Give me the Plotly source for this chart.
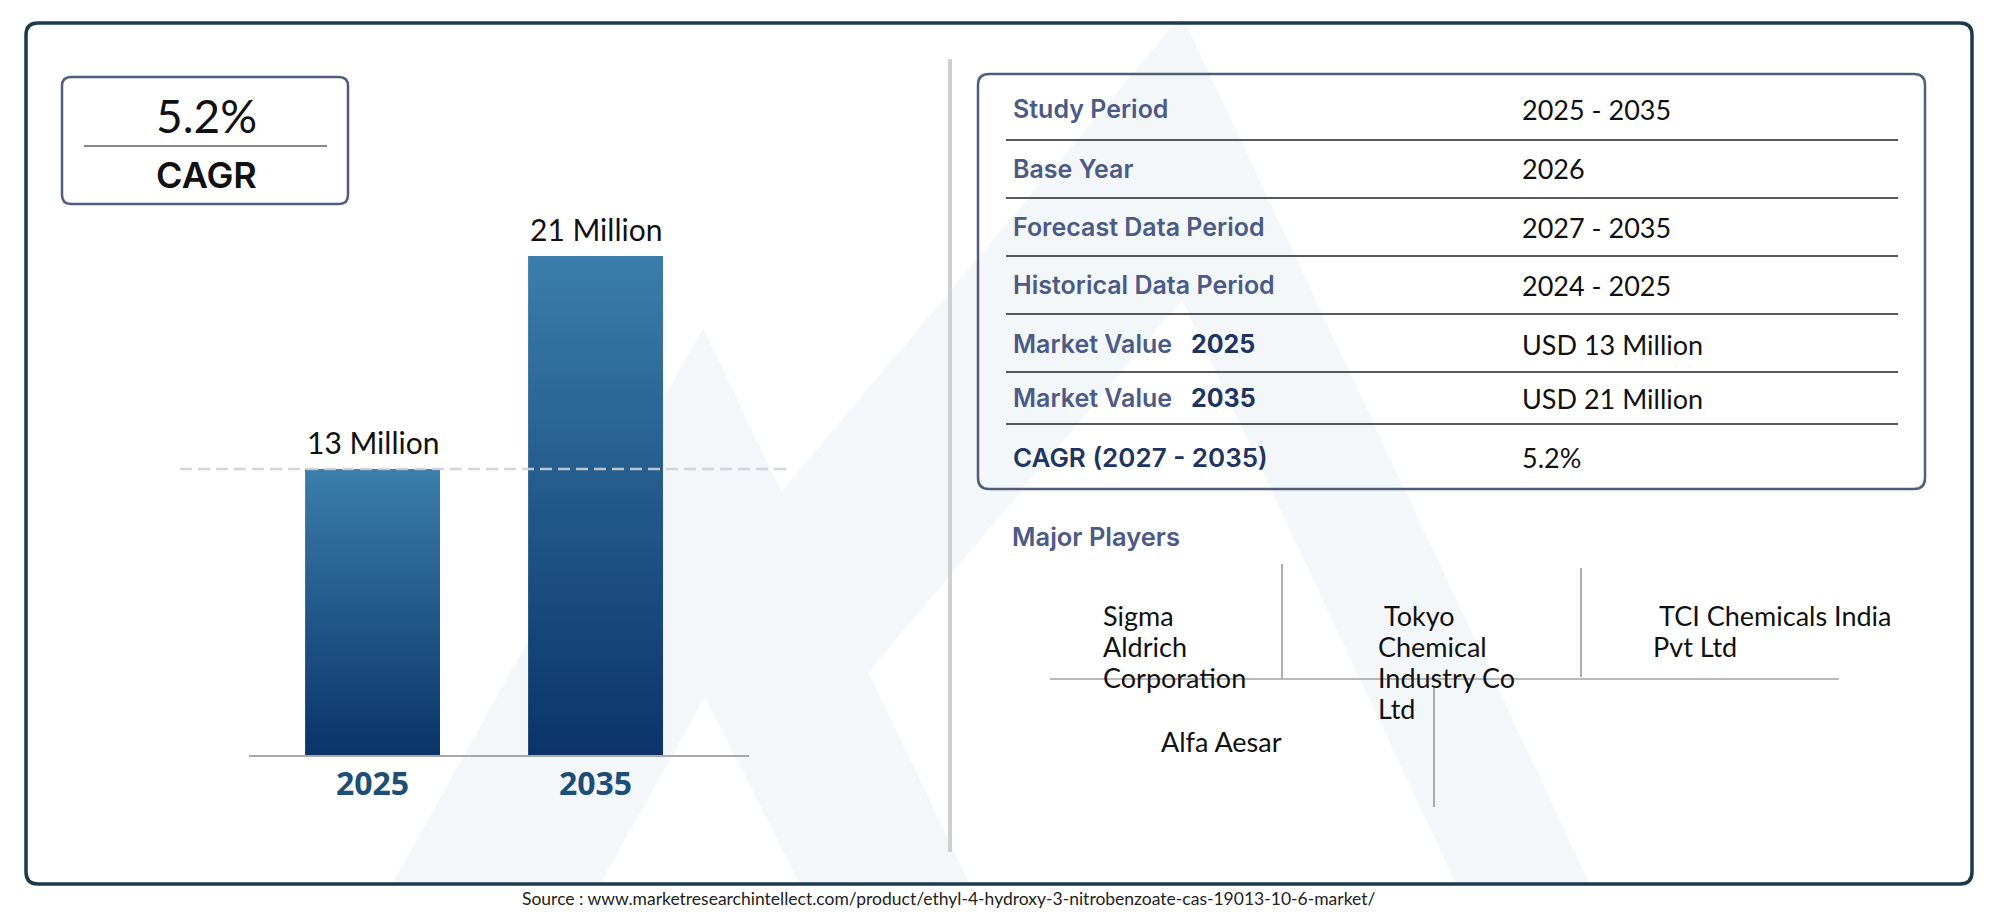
import plotly.graph_objects as go

# page is 2000x917, the browser body keeps an 8px margin
OFF = 8
W, H = 2000 - 2 * OFF, 917 - OFF

# ---- data -------------------------------------------------------------
years = ["2025", "2035"]
market_value = [13, 21]  # USD million
value_labels = ["13 Million", "21 Million"]
cagr_value = "5.2%"
cagr_label = "CAGR"

table_labels = [
    "Study Period",
    "Base Year",
    "Forecast Data Period",
    "Historical Data Period",
    "Market Value",
    "Market Value",
    "CAGR (2027 - 2035)",
]
table_label_years = ["", "", "", "", "2025", "2035", ""]
table_values = [
    "2025 - 2035",
    "2026",
    "2027 - 2035",
    "2024 - 2025",
    "USD 13 Million",
    "USD 21 Million",
    "5.2%",
]

players_title = "Major Players"
players = [
    ["Sigma", "Aldrich", "Corporation"],
    [" Tokyo", "Chemical", "Industry Co", "Ltd"],
    [" TCI Chemicals India", "Pvt Ltd"],
    ["Alfa Aesar"],
]

source_text = ("Source : www.marketresearchintellect.com/product/"
               "ethyl-4-hydroxy-3-nitrobenzoate-cas-19013-10-6-market/")


# ---- helpers (page pixel -> paper) ------------------------------------
def fx(x):
    return (x - OFF) / W


def fy(y):
    return 1 - (y - OFF) / H


def round_rect(x0, y0, x1, y1, r):
    p = [
        f"M {fx(x0 + r)},{fy(y0)}",
        f"L {fx(x1 - r)},{fy(y0)}",
        f"Q {fx(x1)},{fy(y0)} {fx(x1)},{fy(y0 + r)}",
        f"L {fx(x1)},{fy(y1 - r)}",
        f"Q {fx(x1)},{fy(y1)} {fx(x1 - r)},{fy(y1)}",
        f"L {fx(x0 + r)},{fy(y1)}",
        f"Q {fx(x0)},{fy(y1)} {fx(x0)},{fy(y1 - r)}",
        f"L {fx(x0)},{fy(y0 + r)}",
        f"Q {fx(x0)},{fy(y0)} {fx(x0 + r)},{fy(y0)} Z",
    ]
    return " ".join(p)


def poly(pts):
    return "M " + " L ".join(f"{fx(x)},{fy(y)}" for x, y in pts) + " Z"


def text(x, y, t, font, xanchor="left", yanchor="middle"):
    return dict(x=fx(x), y=fy(y), xref="paper", yref="paper", text=t,
                showarrow=False, xanchor=xanchor, yanchor=yanchor, font=font)


JOST = "Lato, 'Open Sans', sans-serif"
MONT = "Inter, 'Noto Sans', sans-serif"
LABEL_C = "#4b5a86"
NAVY = "#1e3461"
WM = "#f4f7fa"

Y_MIN, Y_MAX = 2.26, 23.1
BAR_W = 0.605

fig = go.Figure()

# bars with vertical gradient
for i, v in enumerate(market_value):
    xs = [i - BAR_W / 2, i + BAR_W / 2, i + BAR_W / 2, i - BAR_W / 2, i - BAR_W / 2]
    ys = [Y_MIN, Y_MIN, v, v, Y_MIN]
    fig.add_trace(go.Scatter(
        x=xs, y=ys, mode="lines", fill="toself",
        line=dict(width=0, color="rgba(0,0,0,0)"),
        fillgradient=dict(type="vertical",
                          colorscale=[[0, "#0a3468"], [1, "#3b7eab"]]),
        hoverinfo="skip", showlegend=False,
    ))

shapes = []
# faint logo watermark
for pts, col in [
    ([(1182, 15), (452, 884), (1590, 884)], WM),
    ([(1182, 300), (690, 884), (1456, 884)], "#ffffff"),
    ([(703, 328), (392, 884), (970, 884)], WM),
    ([(705, 697), (600, 884), (800, 884)], "#ffffff"),
]:
    shapes.append(dict(type="path", xref="paper", yref="paper", layer="below",
                       path=poly(pts), fillcolor=col, line=dict(width=0)))

# outer frame
shapes.append(dict(type="path", xref="paper", yref="paper",
                   path=round_rect(26, 23, 1972, 884, 12),
                   line=dict(color="#1b3a4c", width=3.5)))
# CAGR box
shapes.append(dict(type="path", xref="paper", yref="paper",
                   path=round_rect(62, 77, 348, 204, 9),
                   line=dict(color="#4f5d7d", width=2.5)))
shapes.append(dict(type="line", xref="paper", yref="paper",
                   x0=fx(84), x1=fx(327), y0=fy(146), y1=fy(146),
                   line=dict(color="#111111", width=1)))
# divider
shapes.append(dict(type="line", xref="paper", yref="paper",
                   x0=fx(950), x1=fx(950), y0=fy(59), y1=fy(852),
                   line=dict(color="#cfcfcf", width=4)))
# info box
shapes.append(dict(type="path", xref="paper", yref="paper",
                   path=round_rect(978, 74, 1925, 489, 11),
                   line=dict(color="#4f5d7d", width=2.5)))
for yy in [140, 198, 256, 314, 372, 424]:
    shapes.append(dict(type="line", xref="paper", yref="paper",
                       x0=fx(1006), x1=fx(1898), y0=fy(yy), y1=fy(yy),
                       line=dict(color="#222222", width=1.5)))
# players grid
for x0, y0, x1, y1 in [(1282, 564, 1282, 678), (1581, 568, 1581, 677),
                       (1050, 679, 1839, 679), (1434, 687, 1434, 807)]:
    shapes.append(dict(type="line", xref="paper", yref="paper",
                       x0=fx(x0), x1=fx(x1), y0=fy(y0), y1=fy(y1),
                       line=dict(color="#777777", width=1.2)))
# dashed reference line at the 2025 value
shapes.append(dict(type="line", xref="paper", yref="y", layer="above",
                   x0=fx(180), x1=fx(787), y0=market_value[0], y1=market_value[0],
                   line=dict(color="rgba(205,209,214,0.9)", width=2.5, dash="12px,6px")))

ann = []
# bar value labels
for i, (v, t) in enumerate(zip(market_value, value_labels)):
    ann.append(dict(x=i, y=v, xref="x", yref="y", text=t, showarrow=False,
                    xanchor="center", yanchor="bottom", yshift=7,
                    font=dict(family=JOST, size=30, color="#111111")))
# CAGR box text
ann.append(text(206, 115, cagr_value, dict(family=JOST, size=46, color="#111111"),
                xanchor="center"))
ann.append(text(206, 175, cagr_label, dict(family=MONT, size=36, color="#111111", weight=600),
                xanchor="center"))

# table
row_y = [109, 169, 227, 285, 344, 398, 457]
for k, (lab, yr, val) in enumerate(zip(table_labels, table_label_years, table_values)):
    last = k == len(table_labels) - 1
    txt = lab
    if yr:
        txt = f"{lab}   <span style='color:{NAVY}'><b>{yr}</b></span>"
    ann.append(text(1011, row_y[k], txt,
                    dict(family=MONT, size=26 if last else 25,
                         color=NAVY if last else LABEL_C, weight=600)))
    ann.append(text(1520, row_y[k], val, dict(family=JOST, size=27, color="#111111")))

ann.append(text(1010, 536, players_title,
                dict(family=MONT, size=25.5, color=LABEL_C, weight=600)))

player_pos = [(1101, 615), (1376, 615), (1651, 615), (1159, 741)]
for lines, (px_, py_) in zip(players, player_pos):
    for j, ln in enumerate(lines):
        ann.append(text(px_, py_ + 31 * j, ln, dict(family=JOST, size=27, color="#111111")))

ann.append(text(520, 898, source_text, dict(family=JOST, size=17.5, color="#222222")))

fig.update_layout(
    width=W, height=H,
    margin=dict(l=0, r=0, t=0, b=0),
    paper_bgcolor="white", plot_bgcolor="rgba(0,0,0,0)",
    shapes=shapes, annotations=ann,
    showlegend=False,
    xaxis=dict(domain=[fx(249), fx(749)], range=[-0.554, 1.688],
               tickvals=list(range(len(years))), ticktext=years,
               tickfont=dict(family="'Open Sans', sans-serif", size=32, color="#1d4e77", weight=700),
               showline=True, linecolor="#a8a8a8", linewidth=1.5,
               showgrid=False, zeroline=False, ticks="", fixedrange=True),
    yaxis=dict(domain=[fy(755), fy(200)], range=[Y_MIN, Y_MAX], visible=False,
               fixedrange=True),
)

fig.write_html("out.html")
